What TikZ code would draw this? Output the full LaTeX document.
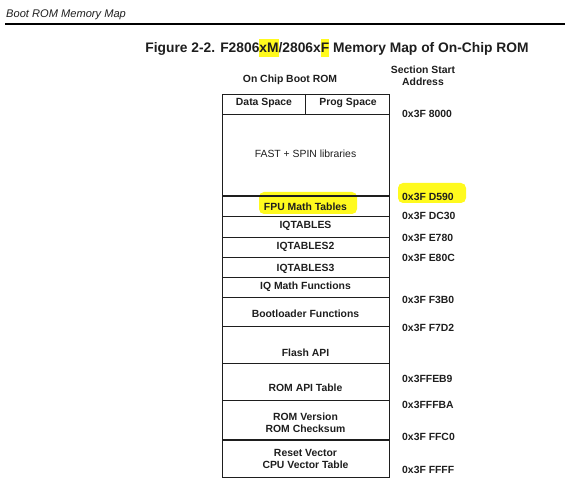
\documentclass[tikz,border=0pt]{standalone}
\usepackage{fontspec}
\setmainfont{Liberation Sans}
\usetikzlibrary{positioning}
\definecolor{hlyellow}{RGB}{255,250,30}
\definecolor{inkgray}{RGB}{30,30,30}
\newcommand{\hlmark}[1]{{\setlength{\fboxsep}{0pt}\colorbox{hlyellow}{\rule[-4pt]{0pt}{18pt}#1}}}

\begin{document}
\begin{tikzpicture}[x=1pt, y=-1pt,
    every node/.style={font=\bfseries\fontsize{10.4}{12}\selectfont, text=inkgray, inner sep=0pt, align=center},
    addr/.style={anchor=west},
    hl/.style={fill=hlyellow, rounded corners=5pt},
    mapbox/.style={draw=inkgray, line width=0.9pt}
]
    \useasboundingbox (0,0) rectangle (565,502);
    % highlights under the text
    \fill[hl] (259,192) rectangle (357,214);
    \fill[hl] (398,183) rectangle (466,203);
    % page header
    \node[anchor=west, font=\itshape\fontsize{11.1}{13}\selectfont] (hdr) at (6,15) {Boot ROM Memory Map};
    \draw[line width=1.8pt] (5,24) -- (565,24);
    \node[font=\bfseries\fontsize{13.8}{16}\selectfont] (title) at (337,48) {Figure 2-2. F2806\hlmark{xM}/2806x\hlmark{F} Memory Map of On-Chip ROM};
    \node (rom) at (290,80) {On Chip Boot ROM};
    \node (ssa) at (423,76) {Section Start\\Address};
    % memory map
    \draw[mapbox] (222,94) rectangle (389,477);
    \draw[mapbox] (305,94) -- (305,114);
    \foreach \y in {114,216,237,257,277,297,326,363,400}
        \draw[mapbox] (222,\y) -- (389,\y);
    \foreach \y in {196,440}
        \draw[mapbox, line width=1.4pt] (222,\y) -- (389,\y);
    \node (data) at (264,103) {Data Space};
    \node (prog) at (348,103) {Prog Space};
    \node[font=\fontsize{10.4}{12}\selectfont] (fast) at (305.5,154) {FAST + SPIN libraries};
    \node (fpu) at (305.5,207) {FPU Math Tables};
    \node (iq1) at (305.5,226) {IQTABLES};
    \node (iq2) at (305.5,247) {IQTABLES2};
    \node (iq3) at (305.5,269) {IQTABLES3};
    \node (iqm) at (305.5,287) {IQ Math Functions};
    \node (boot) at (305.5,314) {Bootloader Functions};
    \node (flash) at (305.5,353) {Flash API};
    \node (api) at (305.5,388) {ROM API Table};
    \node (ver) at (305.5,422.5) {ROM Version\\ROM Checksum};
    \node (reset) at (305.5,459) {Reset Vector\\CPU Vector Table};
    % section start addresses
    \node[addr] (a1) at (402,114) {0x3F 8000};
    \node[addr] (a2) at (402,197) {0x3F D590};
    \node[addr] (a3) at (402,216) {0x3F DC30};
    \node[addr] (a4) at (402,238) {0x3F E780};
    \node[addr] (a5) at (402,258) {0x3F E80C};
    \node[addr] (a6) at (402,300) {0x3F F3B0};
    \node[addr] (a7) at (402,328) {0x3F F7D2};
    \node[addr] (a8) at (402,379) {0x3FFEB9};
    \node[addr] (a9) at (402,405) {0x3FFFBA};
    \node[addr] (a10) at (402,437) {0x3F FFC0};
    \node[addr] (a11) at (402,470) {0x3F FFFF};
\end{tikzpicture}
\end{document}
